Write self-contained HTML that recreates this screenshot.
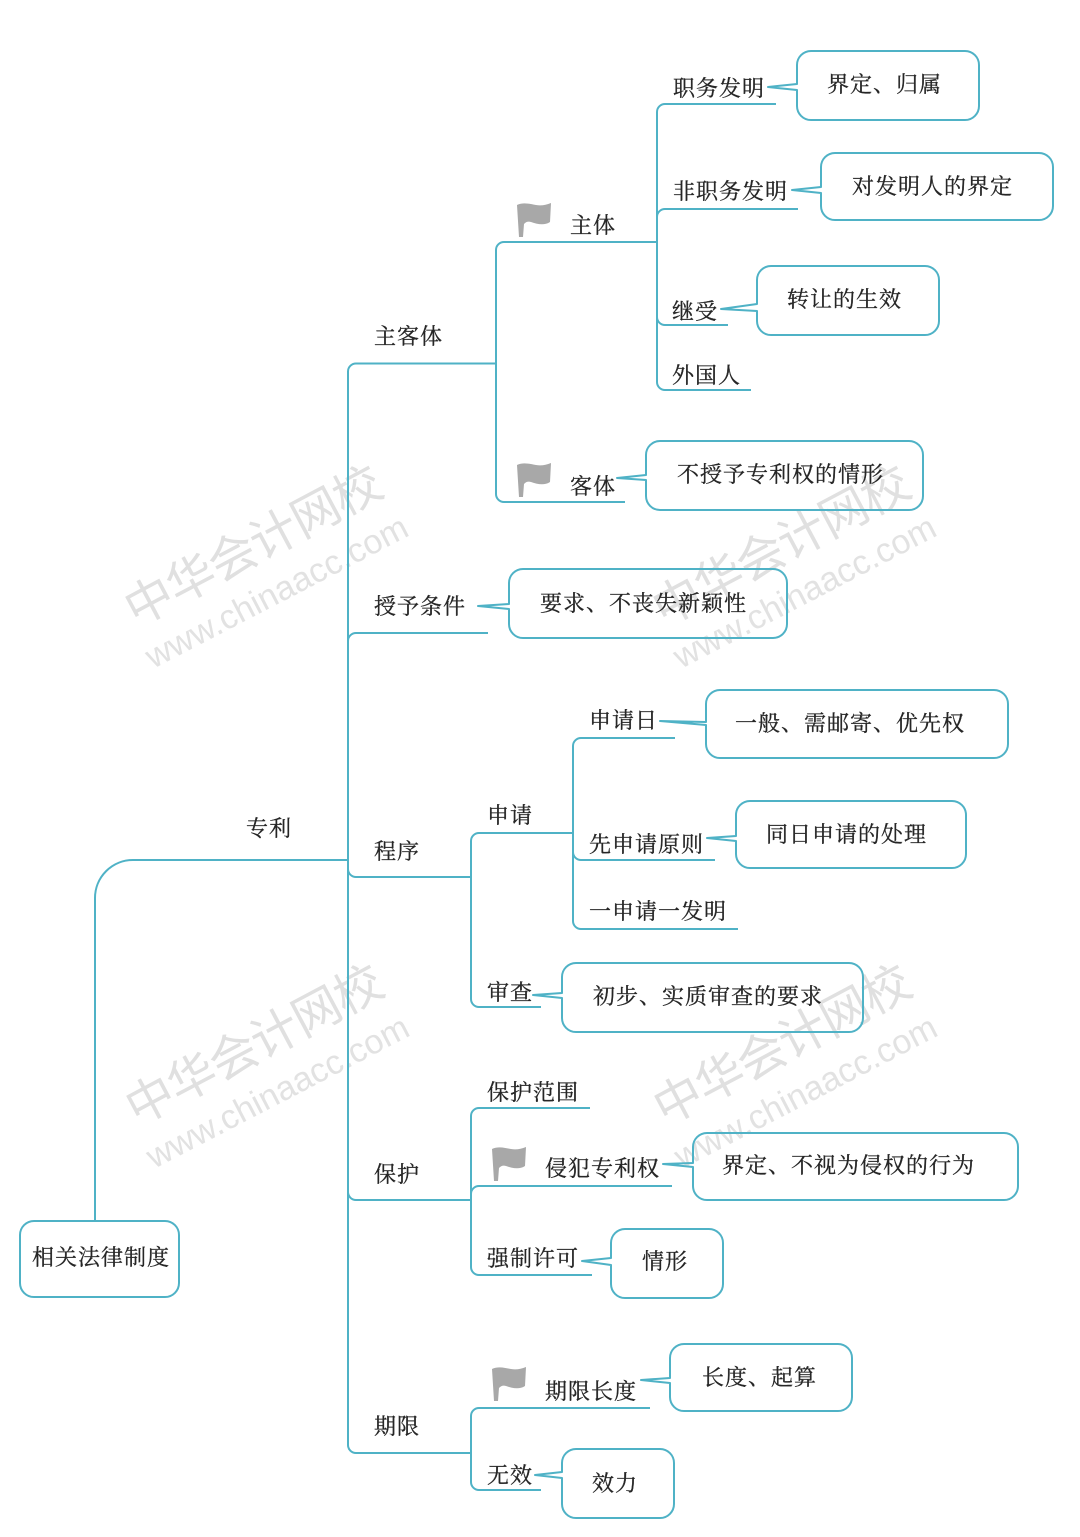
<!DOCTYPE html>
<html lang="zh">
<head>
<meta charset="utf-8">
<title>相关法律制度</title>
<style>
html,body{margin:0;padding:0;background:#fff;width:1080px;height:1537px;overflow:hidden}
svg{display:block}
.t{font-family:"Liberation Serif","Noto Serif CJK SC",serif;font-size:22px;letter-spacing:1px;fill:#262626;stroke:#262626;stroke-width:.3px}
.w1{font-family:"Liberation Sans","Noto Sans CJK SC",sans-serif;font-size:48px;letter-spacing:-.9px;fill:#e0e0e0}
.w2{font-family:"Liberation Sans","Noto Sans CJK SC",sans-serif;font-size:34px;letter-spacing:.1px;fill:#e2e2e2}
.l{fill:none;stroke:#4fb2c6;stroke-width:2}
.b{fill:none;stroke:#4fb2c6;stroke-width:2;stroke-linejoin:round}
.f{fill:#a8a8a8}
.soft{filter:blur(.35px)}
</style>
</head>
<body>
<svg width="1080" height="1537" viewBox="0 0 1080 1537" xmlns="http://www.w3.org/2000/svg">
<rect width="1080" height="1537" fill="#fff"/>
<defs>
<path id="flag" d="M0 2C6 -1 13 1 19 2C24 3 29 2 34 0L33 19C27 23 20 21 14 19C11 18 9 19 7 21L6 34L2 34Z"/>
</defs>
<g class="soft">
<!-- watermarks -->
<g transform="translate(136,627) rotate(-28)"><text class="w1" x="0" y="0">中华会计网校</text></g>
<g transform="translate(153,669) rotate(-27.500)"><text class="w2" x="0" y="0">www.chinaacc.com</text></g>
<g transform="translate(664,627) rotate(-28)"><text class="w1" x="0" y="0">中华会计网校</text></g>
<g transform="translate(681,669) rotate(-27.500)"><text class="w2" x="0" y="0">www.chinaacc.com</text></g>
<g transform="translate(137,1126) rotate(-28)"><text class="w1" x="0" y="0">中华会计网校</text></g>
<g transform="translate(154,1169) rotate(-27.500)"><text class="w2" x="0" y="0">www.chinaacc.com</text></g>
<g transform="translate(665,1126) rotate(-28)"><text class="w1" x="0" y="0">中华会计网校</text></g>
<g transform="translate(682,1169) rotate(-27.500)"><text class="w2" x="0" y="0">www.chinaacc.com</text></g>

<!-- connectors -->
<path class="l" d="M95 1221V898A38 38 0 0 1 133 860H348"/>
<path class="l" d="M496 363.500H356A8 8 0 0 0 348 371.500V1445A8 8 0 0 0 356 1453H471"/>
<path class="l" d="M488 633H356A8 8 0 0 0 348 641"/>
<path class="l" d="M348 869A8 8 0 0 0 356 877H471"/>
<path class="l" d="M348 1192A8 8 0 0 0 356 1200H471"/>
<path class="l" d="M657 242H504A8 8 0 0 0 496 250V494A8 8 0 0 0 504 502H625"/>
<path class="l" d="M776 104H665A8 8 0 0 0 657 112V382A8 8 0 0 0 665 390H751"/>
<path class="l" d="M798 209H665A8 8 0 0 0 657 217"/>
<path class="l" d="M657 317A8 8 0 0 0 665 325H728"/>
<path class="l" d="M573 833H479A8 8 0 0 0 471 841V999A8 8 0 0 0 479 1007H541"/>
<path class="l" d="M675 738H581A8 8 0 0 0 573 746V921A8 8 0 0 0 581 929H738"/>
<path class="l" d="M573 852A8 8 0 0 0 581 860H715"/>
<path class="l" d="M590 1108H479A8 8 0 0 0 471 1116V1267A8 8 0 0 0 479 1275H592"/>
<path class="l" d="M672 1186H479A8 8 0 0 0 471 1194"/>
<path class="l" d="M650 1408H479A8 8 0 0 0 471 1416V1482A8 8 0 0 0 479 1490H541"/>

<!-- boxes -->
<rect class="b" x="20" y="1221" width="159" height="76" rx="14"/>
<path class="b" d="M811 51H965A14 14 0 0 1 979 65V106A14 14 0 0 1 965 120H811A14 14 0 0 1 797 106V90L768 87L797 84V65A14 14 0 0 1 811 51Z"/>
<path class="b" d="M835 153H1039A14 14 0 0 1 1053 167V206A14 14 0 0 1 1039 220H835A14 14 0 0 1 821 206V193L792 190L821 187V167A14 14 0 0 1 835 153Z"/>
<path class="b" d="M771 266H925A14 14 0 0 1 939 280V321A14 14 0 0 1 925 335H771A14 14 0 0 1 757 321V311L721 309L757 304V280A14 14 0 0 1 771 266Z"/>
<path class="b" d="M660 441H909A14 14 0 0 1 923 455V496A14 14 0 0 1 909 510H660A14 14 0 0 1 646 496V480L617 478L646 475V455A14 14 0 0 1 660 441Z"/>
<path class="b" d="M523 569H773A14 14 0 0 1 787 583V624A14 14 0 0 1 773 638H523A14 14 0 0 1 509 624V609L478 606L509 604V583A14 14 0 0 1 523 569Z"/>
<path class="b" d="M720 690H994A14 14 0 0 1 1008 704V744A14 14 0 0 1 994 758H720A14 14 0 0 1 706 744V725L660 721L706 722V704A14 14 0 0 1 720 690Z"/>
<path class="b" d="M750 801H952A14 14 0 0 1 966 815V854A14 14 0 0 1 952 868H750A14 14 0 0 1 736 854V841L707 838L736 836V815A14 14 0 0 1 750 801Z"/>
<path class="b" d="M576 963H849A14 14 0 0 1 863 977V1018A14 14 0 0 1 849 1032H576A14 14 0 0 1 562 1018V998L533 995L562 993V977A14 14 0 0 1 576 963Z"/>
<path class="b" d="M707 1133H1004A14 14 0 0 1 1018 1147V1186A14 14 0 0 1 1004 1200H707A14 14 0 0 1 693 1186V1167L663 1164L693 1163V1147A14 14 0 0 1 707 1133Z"/>
<path class="b" d="M625 1229H709A14 14 0 0 1 723 1243V1284A14 14 0 0 1 709 1298H625A14 14 0 0 1 611 1284V1265L582 1261L611 1258V1243A14 14 0 0 1 625 1229Z"/>
<path class="b" d="M684 1344H838A14 14 0 0 1 852 1358V1397A14 14 0 0 1 838 1411H684A14 14 0 0 1 670 1397V1383L641 1380L670 1378V1358A14 14 0 0 1 684 1344Z"/>
<path class="b" d="M576 1449H660A14 14 0 0 1 674 1463V1504A14 14 0 0 1 660 1518H576A14 14 0 0 1 562 1504V1478L535 1475L562 1472V1463A14 14 0 0 1 576 1449Z"/>

<!-- flags -->
<use class="f" href="#flag" x="517" y="203"/>
<use class="f" href="#flag" x="517" y="463"/>
<use class="f" href="#flag" x="492" y="1147"/>
<use class="f" href="#flag" x="492" y="1367"/>

<!-- labels -->
<g transform="translate(0,1)">
<text class="t" x="246" y="835">专利</text>
<text class="t" x="374" y="343">主客体</text>
<text class="t" x="374" y="613">授予条件</text>
<text class="t" x="374" y="858">程序</text>
<text class="t" x="374" y="1181">保护</text>
<text class="t" x="374" y="1433">期限</text>
<text class="t" x="570" y="232">主体</text>
<text class="t" x="570" y="493">客体</text>
<text class="t" x="673" y="95">职务发明</text>
<text class="t" x="673" y="198">非职务发明</text>
<text class="t" x="672" y="318">继受</text>
<text class="t" x="672" y="382">外国人</text>
<text class="t" x="487" y="822">申请</text>
<text class="t" x="487" y="999">审查</text>
<text class="t" x="589" y="727">申请日</text>
<text class="t" x="589" y="851">先申请原则</text>
<text class="t" x="589" y="918">一申请一发明</text>
<text class="t" x="487" y="1099">保护范围</text>
<text class="t" x="545" y="1175">侵犯专利权</text>
<text class="t" x="487" y="1265">强制许可</text>
<text class="t" x="545" y="1398">期限长度</text>
<text class="t" x="487" y="1482">无效</text>

<text class="t" x="32" y="1264">相关法律制度</text>
<text class="t" x="827" y="91">界定、归属</text>
<text class="t" x="852" y="193">对发明人的界定</text>
<text class="t" x="787" y="306">转让的生效</text>
<text class="t" x="677" y="481">不授予专利权的情形</text>
<text class="t" x="540" y="610">要求、不丧失新颖性</text>
<text class="t" x="735" y="730">一般、需邮寄、优先权</text>
<text class="t" x="766" y="841">同日申请的处理</text>
<text class="t" x="593" y="1003">初步、实质审查的要求</text>
<text class="t" x="722" y="1172">界定、不视为侵权的行为</text>
<text class="t" x="642" y="1268">情形</text>
<text class="t" x="702" y="1384">长度、起算</text>
<text class="t" x="592" y="1490">效力</text>
</g>
</g>
</svg>
</body>
</html>
